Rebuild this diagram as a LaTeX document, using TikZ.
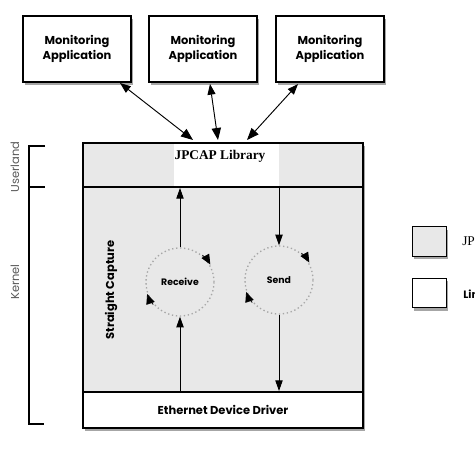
\documentclass[tikz,border=0pt]{standalone}
\usepackage{fontspec}
\setmainfont{Liberation Serif}
\newfontfamily\gothic{Poppins}
\usetikzlibrary{arrows.meta,shadows}
\definecolor{panel}{HTML}{E8E8E8}
\tikzset{
  shadowed/.style={drop shadow={shadow xshift=1.2pt,shadow yshift=-2.2pt,opacity=0.35,fill=black}},
  appbox/.style={draw=black,line width=0.9pt,fill=white,shadowed,inner sep=0pt,
    minimum width=81pt,minimum height=49.5pt,align=center,font=\gothic\bfseries\fontsize{8.6}{11.5}\selectfont},
  link/.style={line width=0.7pt,{Triangle[length=8pt,width=6pt]}-{Triangle[length=9pt,width=7pt]}},
  flow/.style={line width=0.7pt,-{Triangle[length=8pt,width=5.5pt]}},
  loop/.style={circle,draw=gray!70,dotted,line width=1pt,minimum size=51pt,inner sep=0pt,
    font=\gothic\bfseries\fontsize{7}{8}\selectfont},
  looptip/.style={line width=0.6pt,-{Triangle[length=7.5pt,width=6.5pt]}},
  sidelabel/.style={rotate=90,text=gray!70!black,font=\gothic\fontsize{8.6}{9}\selectfont},
  legbox/.style={draw=black,line width=0.8pt,inner sep=0pt,minimum width=26pt,minimum height=22pt,shadowed},
  gtext/.style={font=\gothic\bfseries\fontsize{8}{10}\selectfont},
}
\begin{document}
\begin{tikzpicture}[x=0.75pt,y=-0.75pt]
\useasboundingbox (0,0) rectangle (474,474);
\clip (0,0) rectangle (474,474);

% applications
\node[appbox] (app1) at (77,49) {Monitoring\\Application};
\node[appbox] (app2) at (203,49) {Monitoring\\Application};
\node[appbox] (app3) at (330,49) {Monitoring\\Application};

% main box
\node[draw=black,line width=1.1pt,fill=panel,shadowed,inner sep=0pt,minimum width=210pt,minimum height=213.75pt] (main) at (223,285.5) {};
\node[draw=black,line width=1.1pt,fill=white,inner sep=0pt,minimum width=210pt,minimum height=27pt,font=\gothic\bfseries\fontsize{8.6}{10}\selectfont] (eth) at (223,410) {Ethernet Device Driver};
\coordinate (divL) at (83,187);
\coordinate (divR) at (363,187);
\draw[line width=1.1pt] (divL) -- (divR);
\fill[white] (174,144) rectangle (279,186);
\node[font=\bfseries\fontsize{10}{12}\selectfont] (jpcap) at (220,156) {JPCAP Library};

% links to apps
\coordinate (j1) at (193,140);
\coordinate (j2) at (218,140);
\coordinate (j3) at (247,140);
\coordinate (a1) at (120,83);
\coordinate (a2) at (210,84);
\coordinate (a3) at (298,84);
\draw[link] (a1) -- (j1);
\draw[link] (a2) -- (j2);
\draw[link] (a3) -- (j3);

% userland / kernel bracket
\coordinate (bt) at (29,146);
\coordinate (bm) at (29,187);
\coordinate (bb) at (29,424);
\draw[line width=0.8pt] (45,146) -- (bt) -- (bb) -- (44,424);
\draw[line width=0.8pt] (bm) -- (45,187);
\node[sidelabel] (userland) at (15,167) {Userland};
\node[sidelabel] (kernel) at (15,282) {Kernel};

% straight capture
\node[rotate=90,font=\gothic\bfseries\fontsize{8.6}{10}\selectfont] (sc) at (111,290) {Straight Capture};

% loops
\node[loop] (recv) at (180,282) {Receive};
\node[loop] (send) at (279,280) {Send};
\draw[looptip] (recv) ++(-50:35) arc[start angle=-50,end angle=-30,radius=35];
\draw[looptip] (recv) ++(140:35) arc[start angle=140,end angle=160,radius=35];
\draw[looptip] (send) ++(-50:35) arc[start angle=-50,end angle=-30,radius=35];
\draw[looptip] (send) ++(140:35) arc[start angle=140,end angle=160,radius=35];

\coordinate (rtop) at (180,188);
\coordinate (rbot) at (180,392);
\coordinate (stop) at (279,188);
\coordinate (sbot) at (279,391);
\draw[flow] (recv.north) -- (rtop);
\draw[flow] (rbot) -- (recv.south);
\draw[flow] (stop) -- (send.north);
\draw[flow] (send.south) -- (sbot);

% legend
\node[legbox,fill=panel] (leg1) at (429.5,241.5) {};
\node[legbox,fill=white] (leg2) at (429.5,293) {};
\node[anchor=west,inner sep=0pt,font=\fontsize{10}{12}\selectfont] (leg1t) at (462,242) {JPCAP Library};
\node[anchor=west,inner sep=0pt,gtext] (leg2t) at (463,294) {Linux Kernel};
\end{tikzpicture}
\end{document}
